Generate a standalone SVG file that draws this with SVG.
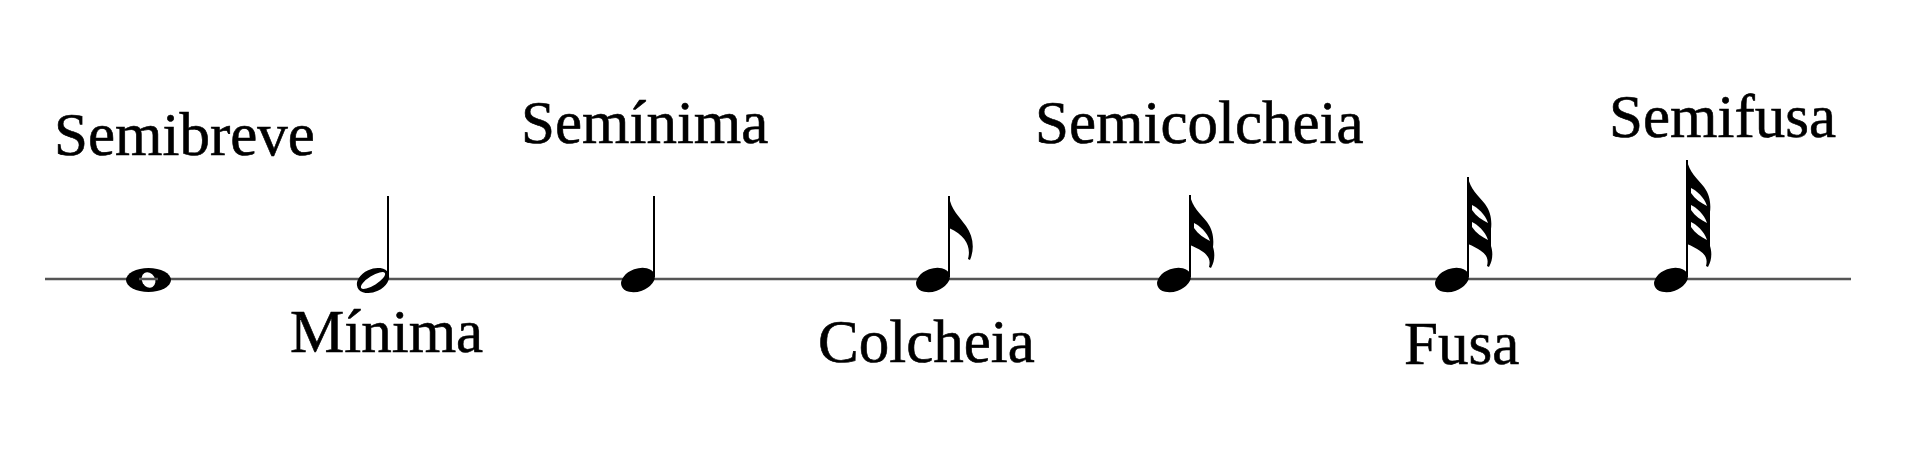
<svg xmlns="http://www.w3.org/2000/svg" xmlns:xlink="http://www.w3.org/1999/xlink" width="1916" height="454" viewBox="0 0 1916 454">
  <style>
    .lbl { font-family: "Liberation Serif", "Times New Roman", serif; font-size: 61px; fill: #000; stroke: #000; stroke-width: 0.6px; }
    .stem { stroke: #000; stroke-width: 2; fill: none; }
    .ink { fill: #000; }
    .hole { fill: #fff; }
    .staff { stroke: #555; stroke-width: 2.5; fill: none; }
  </style>
  <defs>
    <ellipse id="head" cx="0" cy="0" rx="17.5" ry="11.4" transform="rotate(-20)" class="ink"/>
    <path id="flag1" class="ink" d="M0,0 C2,14 10,20 17,30 C24,40 26,52 21,64 L19,63 C22,52 18,40 0,32 Z"/>
    <path id="slot" class="hole" d="M4,28 C10,31 17,37 20,46 C14,43 8,39 4,33 Z"/>
  </defs>
  <rect width="1916" height="454" fill="#fff"/>
  <g id="connectors">
    <line class="staff" x1="45" y1="279" x2="1851" y2="279"/>
  </g>
  <g id="semibreve">
    <ellipse cx="148.5" cy="280" rx="22.5" ry="12" class="ink"/>
    <ellipse cx="148.5" cy="280" rx="8" ry="6.5" transform="rotate(60 148.5 280)" class="hole"/>
    <line x1="139" y1="279" x2="158" y2="279" stroke="#555" stroke-width="2.5"/>
    <text class="lbl" x="54" y="155">Semibreve</text>
  </g>
  <g id="minima">
    <ellipse cx="373" cy="280.5" rx="17" ry="11.4" transform="rotate(-25 373 280.5)" class="ink"/>
    <ellipse cx="373" cy="280.5" rx="14" ry="4.6" transform="rotate(-32 373 280.5)" class="hole"/>
    <line class="stem" x1="388" y1="196" x2="388" y2="277"/>
    <text class="lbl" x="290" y="352">Mínima</text>
  </g>
  <g id="seminima">
    <use xlink:href="#head" href="#head" transform="translate(638 280)"/>
    <line class="stem" x1="654" y1="196" x2="654" y2="277"/>
    <text class="lbl" x="521" y="143">Semínima</text>
  </g>
  <g id="colcheia">
    <use xlink:href="#head" href="#head" transform="translate(933 280)"/>
    <line class="stem" x1="949" y1="196" x2="949" y2="277"/>
    <use xlink:href="#flag1" href="#flag1" transform="translate(949 196)"/>
    <text class="lbl" x="818" y="362">Colcheia</text>
  </g>
  <g id="semicolcheia">
    <use xlink:href="#head" href="#head" transform="translate(1174 280)"/>
    <line class="stem" x1="1190" y1="195" x2="1190" y2="277"/>
    <g transform="translate(1190 195)">
      <path class="ink" d="M0,0 C2,12 10,18 17,27 C23,35 24,44 23,52 C25,58 25,66 21,73 L19,72 C21,64 19,58 0,50 Z"/>
      <use xlink:href="#slot" href="#slot"/>
    </g>
    <text class="lbl" x="1035" y="143">Semicolcheia</text>
  </g>
  <g id="fusa">
    <use xlink:href="#head" href="#head" transform="translate(1452 280)"/>
    <line class="stem" x1="1468" y1="177" x2="1468" y2="277"/>
    <g transform="translate(1468 177)">
      <path class="ink" d="M0,0 C2,12 10,18 17,27 C23,35 24,44 23,52 L23,69 C25,75 25,83 21,90 L19,89 C21,81 19,75 0,67 Z"/>
      <use xlink:href="#slot" href="#slot"/>
      <use xlink:href="#slot" href="#slot" transform="translate(0 17)"/>
    </g>
    <text class="lbl" x="1404" y="364">Fusa</text>
  </g>
  <g id="semifusa">
    <use xlink:href="#head" href="#head" transform="translate(1671 280)"/>
    <line class="stem" x1="1687" y1="160" x2="1687" y2="277"/>
    <g transform="translate(1687 160)">
      <path class="ink" d="M0,0 C2,12 10,18 17,27 C23,35 24,44 23,52 L23,86 C25,92 25,100 21,107 L19,106 C21,98 19,92 0,84 Z"/>
      <use xlink:href="#slot" href="#slot"/>
      <use xlink:href="#slot" href="#slot" transform="translate(0 17)"/>
      <use xlink:href="#slot" href="#slot" transform="translate(0 34)"/>
    </g>
    <text class="lbl" x="1609" y="137">Semifusa</text>
  </g>
</svg>
